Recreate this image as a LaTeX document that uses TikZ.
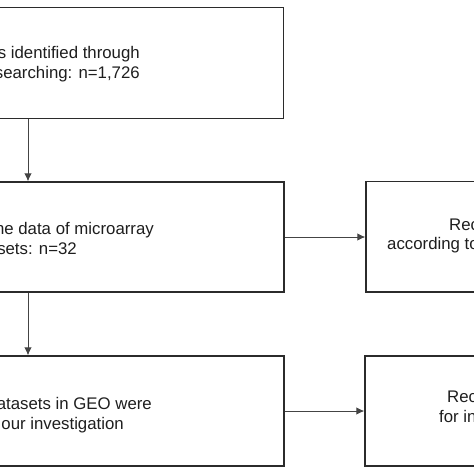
\documentclass[tikz,border=0pt]{standalone}
\usepackage{fontspec}
\setmainfont{Liberation Sans}
\usetikzlibrary{arrows.meta}
\definecolor{boxc}{HTML}{2B2B2B}
\definecolor{arrc}{HTML}{444444}
\definecolor{txtc}{HTML}{1E1E1E}
\begin{document}
\begin{tikzpicture}[x=1pt,y=-1pt,
  box/.style={draw=boxc, line width=1.4pt, inner sep=0pt, fill=none},
  arr/.style={draw=arrc, line width=0.9pt, -{Latex[length=8pt,width=7.5pt]}},
  txt/.style={font=\fontsize{16.8}{20}\selectfont, text=txtc, inner sep=0pt}]
\useasboundingbox (0,0) rectangle (474,474);
\clip (0,0) rectangle (474,474);
% boxes
\node[box, minimum width=533.3pt, minimum height=111pt] (b1) at (16.65,62.8) {};
\node[box, minimum width=534pt, minimum height=110pt] (b2) at (17,237) {};
\node[box, minimum width=534pt, minimum height=110pt] (b3) at (17,411) {};
\node[box, minimum width=334pt, minimum height=110.5pt] (r1) at (533,236.75) {};
\node[box, minimum width=335pt, minimum height=110pt] (r2) at (532.5,411) {};
% texts
\node[txt, anchor=base east] (t1a) at (140,58) {s identified through};
\node[txt, anchor=base east] (t1b) at (140,78) {searching: n=1,726};
\node[txt, anchor=base east] (t2a) at (154,234) {ne data of microarray};
\node[txt, anchor=base east] (t2b) at (77,254) {sets: n=32};
\node[txt, anchor=base east] (t3a) at (152,409) {atasets in GEO were};
\node[txt, anchor=base east] (t3b) at (124,429) {our investigation};
\node[txt, anchor=base west] (u1a) at (449,230) {Rec};
\node[txt, anchor=base west] (u1b) at (387,249) {according to};
\node[txt, anchor=base west] (u2a) at (447,402) {Rec};
\node[txt, anchor=base west] (u2b) at (439,422) {for in};
% connectors
\coordinate (ax) at (28,0);
\draw[arr] (b1.south -| ax) -- (b2.north -| ax);
\draw[arr] (b2.south -| ax) -- (b3.north -| ax);
\draw[arr] (b2.east) -- (r1.west |- b2.east);
\draw[arr] (b3.east) -- (r2.west |- b3.east);
\end{tikzpicture}
\end{document}
